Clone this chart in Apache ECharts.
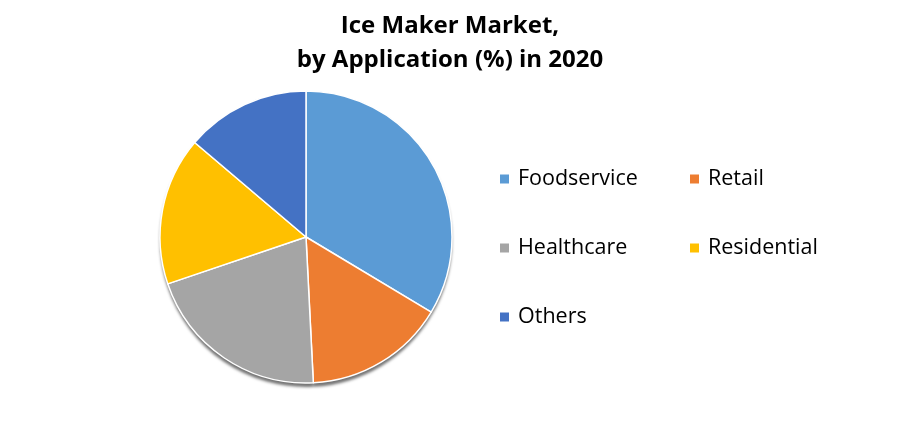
<!DOCTYPE html>
<html><head><meta charset="utf-8">
<script src="https://cdn.jsdelivr.net/npm/echarts@6/dist/echarts.min.js"></script>
<style>html,body{margin:0;padding:0;background:#fff}#c{width:900px;height:433px}</style>
</head><body><div id="c"></div>
<script>
const categories = ['Foodservice', 'Retail', 'Healthcare', 'Residential', 'Others'];
const shares = [33.6, 15.6, 20.6, 16.4, 13.8];
const colors = ['#5B9BD5', '#ED7D31', '#A5A5A5', '#FFC000', '#4472C4'];
const titleText = 'Ice Maker Market,\nby Application (%) in 2020';

const chart = echarts.init(document.getElementById('c'));
const legendText = {fontFamily: 'Open Sans', fontSize: 21.5, lineHeight: 22, color: '#000', padding: [0, 0, 0, 4]};
const legendBase = {orient: 'vertical', top: 168, itemWidth: 9, itemHeight: 9, itemGap: 47, icon: 'rect', textStyle: legendText, padding: 0};
const pieData = categories.map((n, i) => ({name: n, value: shares[i]}));
const pieBase = {type: 'pie', center: [306, 237], radius: 146, startAngle: 90, clockwise: true,
  label: {show: false}, labelLine: {show: false}, silent: true, data: pieData};
chart.setOption({
  animation: false,
  title: {
    text: titleText, left: 'center', top: 4,
    textStyle: {fontFamily: 'Open Sans', fontWeight: 'bold', fontSize: 24, lineHeight: 34, color: '#000'}
  },
  color: colors,
  legend: [
    Object.assign({left: 500, data: [categories[0], categories[2], categories[4]]}, legendBase),
    Object.assign({left: 690, data: [categories[1], categories[3]]}, legendBase)
  ],
  series: [
    Object.assign({z: 1, itemStyle: {shadowColor: 'rgba(0,0,0,0.55)', shadowBlur: 3, shadowOffsetY: 4}}, pieBase),
    Object.assign({z: 2, itemStyle: {borderColor: '#fff', borderWidth: 1.5}}, pieBase)
  ]
});
</script></body></html>
